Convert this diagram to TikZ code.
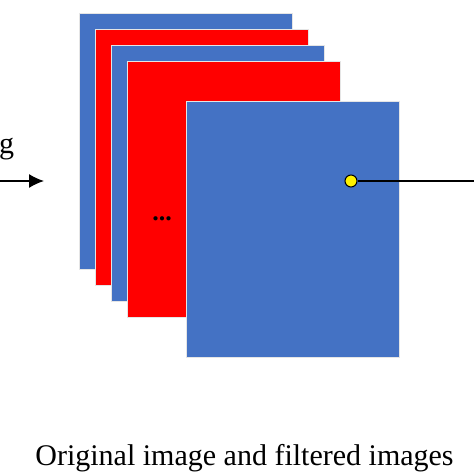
\documentclass[tikz,border=0pt]{standalone}
\usepackage{fontspec}
\setmainfont{Liberation Serif}
\usetikzlibrary{arrows.meta}

\definecolor{layerblue}{HTML}{4472C4}
\definecolor{layerred}{HTML}{FF0000}

\begin{document}
\begin{tikzpicture}[x=1pt, y=-1pt,
        layer/.style = {draw=white!80!gray, line width=0.6pt, inner sep=0pt,
                        minimum width=213pt, minimum height=256pt, anchor=north west},
        bluelayer/.style = {layer, fill=layerblue},
        redlayer/.style = {layer, fill=layerred},
        label/.style = {font=\fontsize{30}{34}\selectfont, inner sep=0pt}]
        \useasboundingbox (0, 0) rectangle (474, 474);

        % stack of images, back to front
        \node [bluelayer] (img1) at (79, 13) {};
        \node [redlayer] (img2) at (95, 29) {};
        \node [bluelayer] (img3) at (111, 45) {};
        \node [redlayer] (img4) at (127, 61) {};
        \node [inner sep=0pt, anchor=base] (dots) at (162, 220)
            {\fontsize{26}{30}\selectfont\textbf{...}};
        \node [bluelayer] (img5) at (186, 101) {};

        % incoming arrow
        \node [label, anchor=base west] (word) at (-1, 153) {g};
        \coordinate (in) at (0, 181);
        \coordinate (inend) at (44, 181);
        \draw [-{Latex[length=15pt, width=14pt]}, line width=1.4pt] (in) -- (inend);

        % selected pixel
        \node [circle, fill=yellow, draw=black, line width=1pt,
               minimum size=12pt, inner sep=0pt] (pix) at (351, 181) {};
        \coordinate (out) at (474, 181);
        \draw [line width=1.4pt] (pix) -- (out);

        \node [label, anchor=base] (caption) at (244.5, 465) {Original image and filtered images};
    \end{tikzpicture}
\end{document}
